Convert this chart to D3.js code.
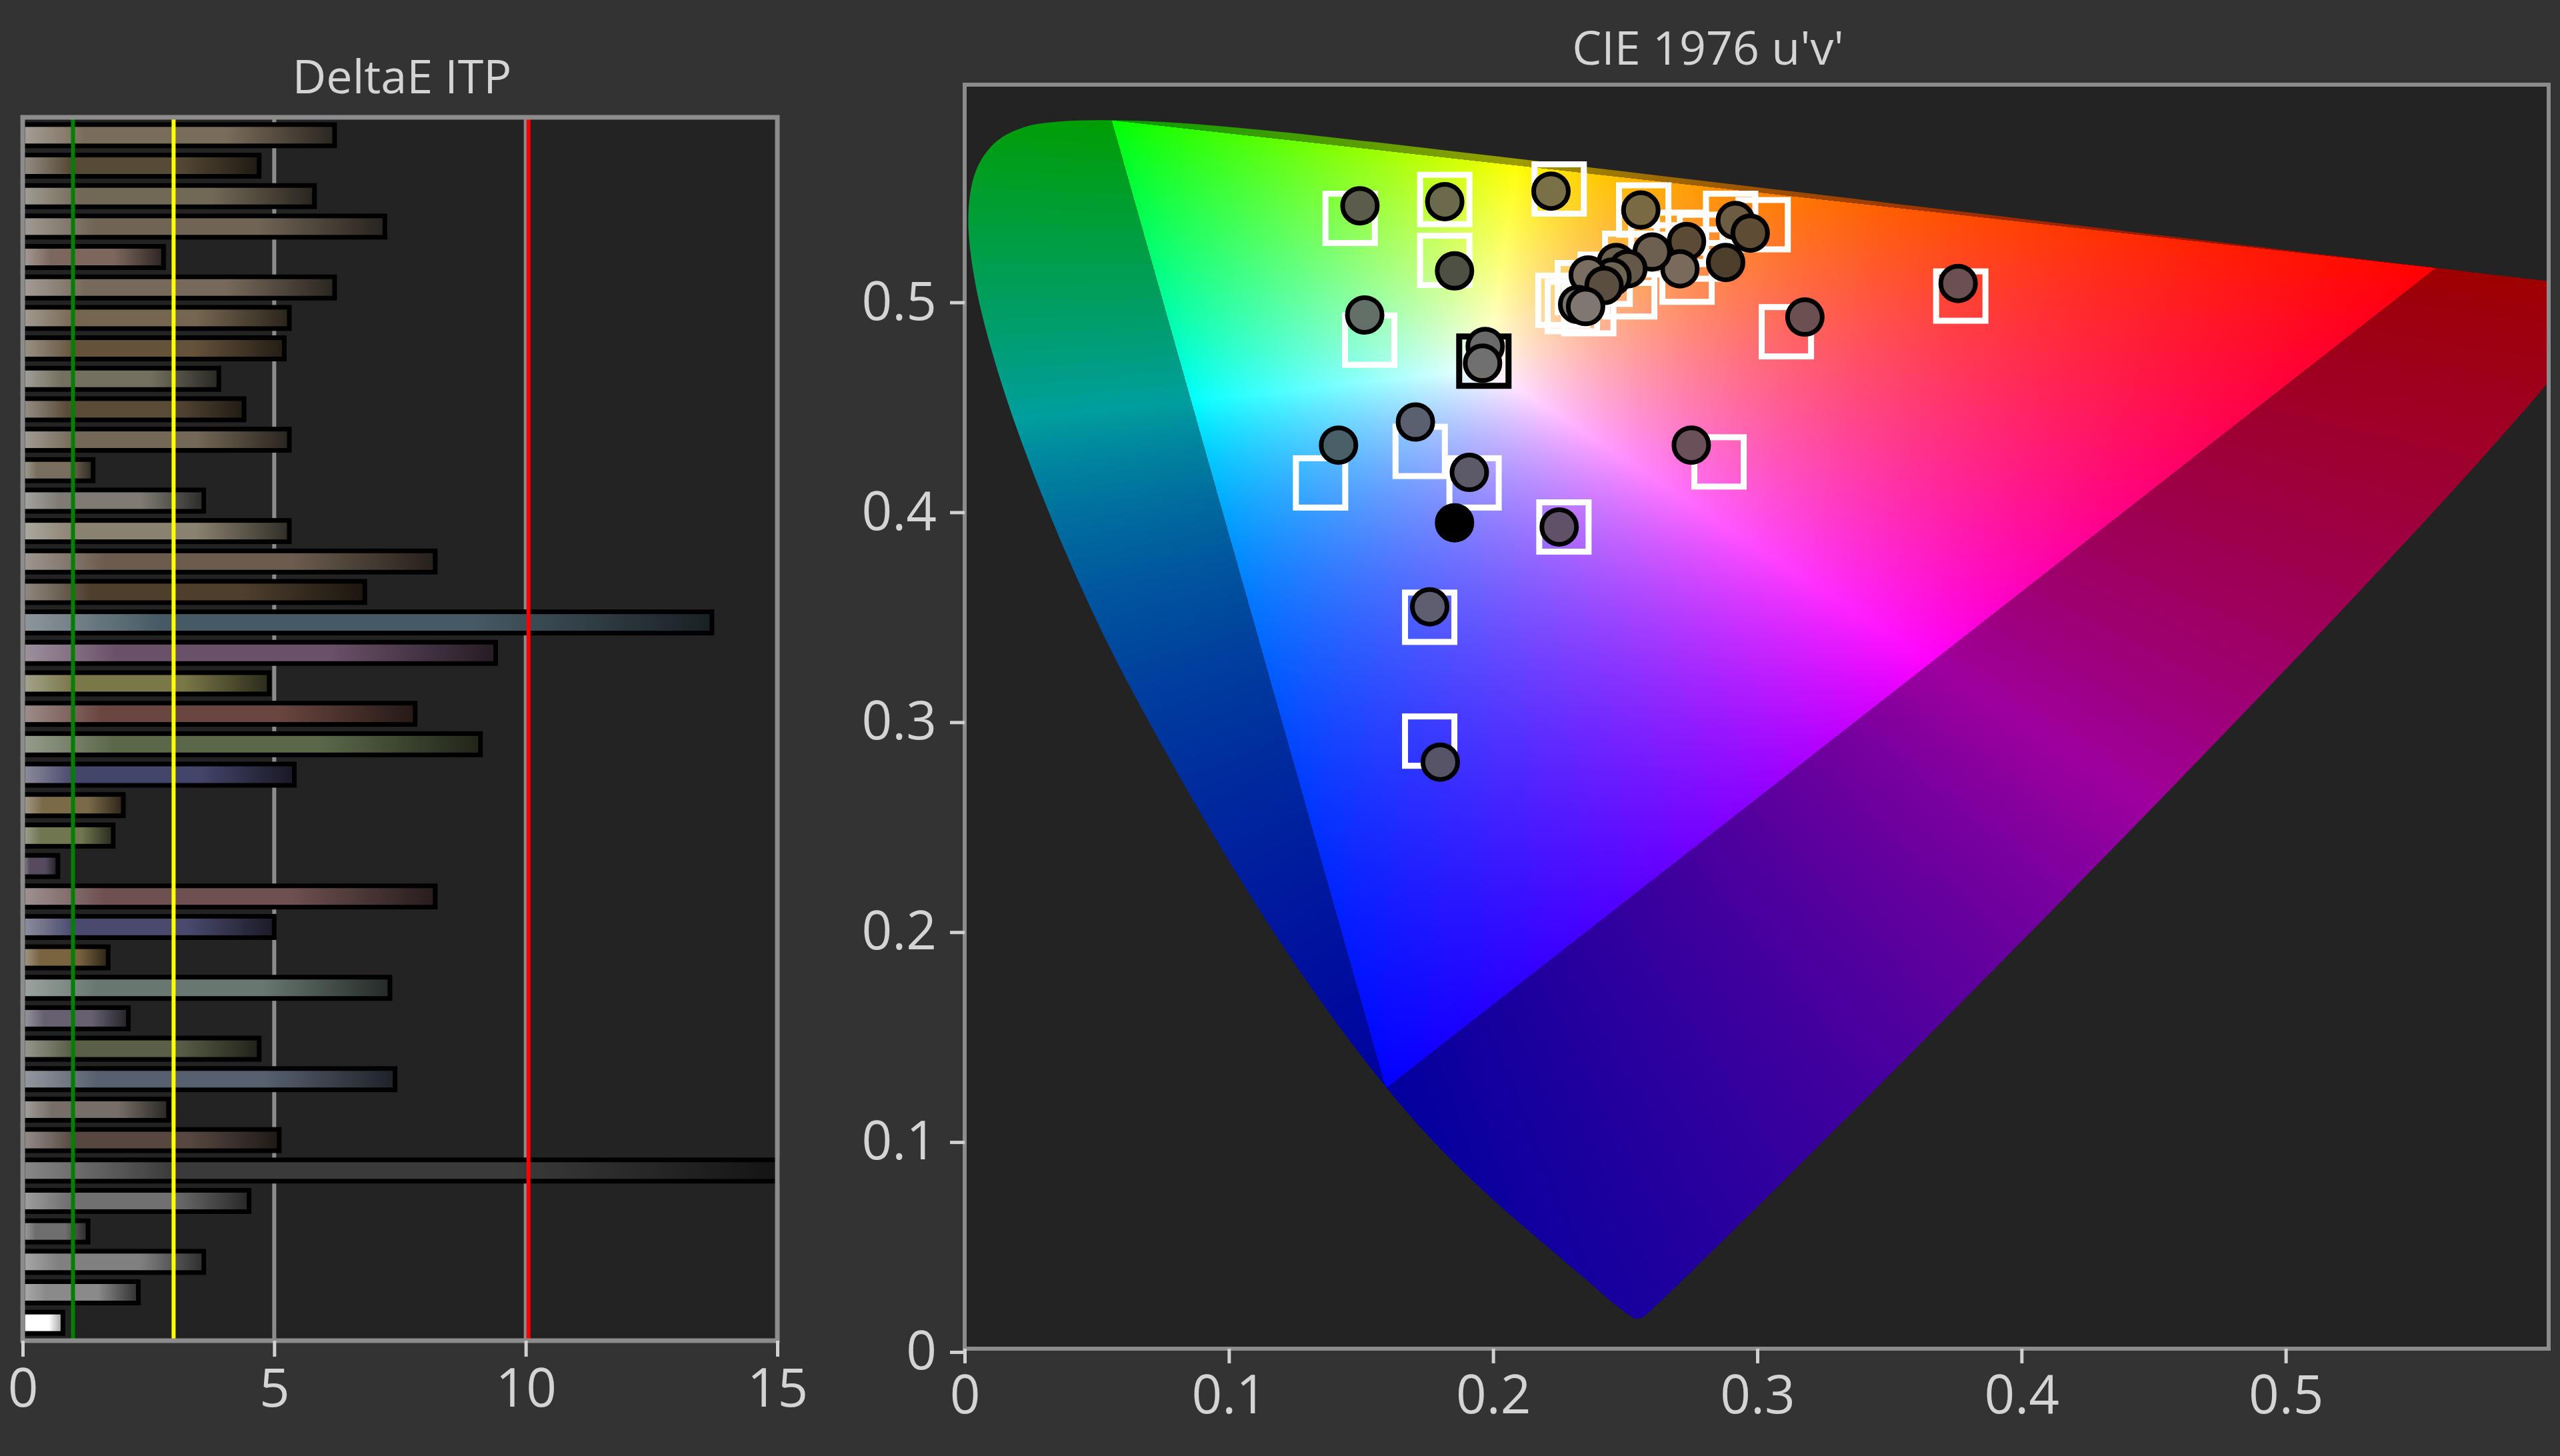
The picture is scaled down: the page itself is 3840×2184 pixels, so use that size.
<!DOCTYPE html>
<html><head><meta charset="utf-8">
<script src="https://cdn.jsdelivr.net/npm/d3@7"></script>
<style>body{margin:0;background:#333333;overflow:hidden}text{font-family:"Open Sans","Noto Sans",sans-serif;fill:#d4d4d4}</style>
</head><body>
<script>
// ---------- DATA ----------
const deltaE = [6.2,4.7,5.8,7.2,2.8,6.2,5.3,5.2,3.9,4.4,5.3,1.4,3.6,5.3,8.2,6.8,13.7,9.4,4.9,7.8,9.1,5.4,2.0,1.8,0.7,8.2,5.0,1.7,7.3,2.1,4.7,7.4,2.9,5.1,15,4.5,1.3,3.6,2.3,0.8];
const barColors = ["#7a6c5a","#574a36","#726856","#706455","#7d675d","#776a5b","#76664f","#65523a","#737060","#5b4c38","#746856","#7a6e5e","#7f7b74","#8a8270","#6c5c4e","#4e3e2c","#465a65","#6a5068","#7a7848","#6a4640","#5a6848","#44456a","#7a6a48","#6f7650","#554a5e","#6e5050","#4a4a6e","#7a6440","#687870","#666070","#5a6048","#56606e","#766e68","#564840","#3a3a3a","#707070","#6e6e6e","#808080","#8a8a8a","#ffffff"];
const thresholds = [{v:1,c:"#008000"},{v:3,c:"#ffff00"},{v:10,c:"#ff0000"}];
const barTicks = [0,5,10,15];
const uvTicks = [0,0.1,0.2,0.3,0.4,0.5];
const measU = [.1496,.1817,.2219,.2559,.1854,.1514,.2917,.2973,.2732,.2880,.2707,.2602,.2466,.251,.245,.236,.242,.232,.235,.318,.376,.197,.196,.1415,.1706,.191,.275,.225,.176,.180,.1854];
const measV = [.546,.548,.553,.544,.515,.494,.539,.533,.529,.519,.516,.524,.519,.516,.512,.513,.508,.499,.498,.493,.509,.479,.471,.432,.443,.419,.432,.393,.355,.281,.395];
const measC = ["#5c5c4c","#6c6a4c","#7a7048","#7a6a44","#4e5044","#627068","#6c5c44","#5e4c34","#5a4a36","#4e3e2c","#7a6a5c","#6e6050","#6a6050","#645848","#6e6454","#7a6e60","#5a4e40","#7a746e","#807870","#6a5050","#6a5050","#6a6a6a","#707070","#4a6068","#5a6070","#5c5a68","#6a5058","#605068","#5e5e70","#585468","#000000"];
const targU = [.1459,.1817,.2250,.257,.1817,.1533,.2899,.3022,.2713,.2775,.2616,.2517,.2734,.2424,.2517,.2338,.2264,.2300,.2362,.2800,.311,.377,.1965,.1347,.1724,.1928,.2855,.2268,.176,.176];
const targV = [.540,.549,.554,.544,.520,.482,.540,.537,.531,.523,.525,.521,.512,.511,.505,.507,.501,.498,.497,.530,.486,.503,.472,.414,.429,.414,.424,.393,.350,.291];
// CIE 1931 spectral locus (x,y), 380..700nm
const locusX = [.1741,.1740,.1738,.1736,.1733,.1730,.1726,.1721,.1714,.1703,.1689,.1669,.1644,.1611,.1566,.1510,.1440,.1355,.1241,.1096,.0913,.0687,.0454,.0235,.0082,.0039,.0139,.0389,.0743,.1142,.1547,.1929,.2296,.2658,.3016,.3373,.3731,.4087,.4441,.4788,.5125,.5448,.5752,.6029,.6270,.6482,.6658,.6801,.6915,.7006,.7079,.7140,.7190,.7260,.7300,.7347];
const locusY = [.0050,.0050,.0049,.0049,.0048,.0048,.0048,.0048,.0051,.0058,.0069,.0086,.0109,.0138,.0177,.0227,.0297,.0399,.0578,.0868,.1327,.2007,.2950,.4127,.5384,.6548,.7502,.8120,.8338,.8262,.8059,.7816,.7543,.7243,.6923,.6589,.6245,.5896,.5547,.5202,.4866,.4544,.4242,.3965,.3725,.3514,.3340,.3197,.3083,.2993,.2920,.2859,.2809,.2740,.2700,.2653];
const rec2020 = [[.5566,.5165],[.0556,.5868],[.1593,.1258]]; // u'v'

const W=3840,H=2184;
const svg=d3.select("body").append("svg").attr("width",W).attr("height",H);
svg.append("rect").attr("width",W).attr("height",H).attr("fill","#333333");

// ---------- LEFT: DeltaE bars ----------
const L={l:34,r:1166,t:176,b:2011};
const x=d3.scaleLinear().domain([0,15]).range([L.l,L.r]);
const y=d3.scaleBand().domain(d3.range(deltaE.length)).range([L.t+4,L.b-4]).paddingInner(0.3).paddingOuter(0.15);
svg.append("rect").attr("x",L.l).attr("y",L.t).attr("width",L.r-L.l).attr("height",L.b-L.t).attr("fill","#232323");
[5,10].forEach(v=>svg.append("line").attr("x1",x(v)).attr("x2",x(v)).attr("y1",L.t).attr("y2",L.b).attr("stroke","#8c8c8c").attr("stroke-width",6));
const defs=svg.append("defs");
deltaE.forEach((d,i)=>{
  const base=d3.color(barColors[i]);
  const g=defs.append("linearGradient").attr("id","bg"+i);
  g.append("stop").attr("offset","0%").attr("stop-color",d3.interpolateRgb(base,"#c8c8c8")(i==39?0:0.55));
  g.append("stop").attr("offset","20%").attr("stop-color",base);
  g.append("stop").attr("offset","65%").attr("stop-color",base);
  g.append("stop").attr("offset","100%").attr("stop-color",i==39?"#9a9a9a":d3.interpolateRgb(base,"#000")(0.65));
});
svg.selectAll(".bar").data(deltaE).join("rect").attr("class","bar")
  .attr("x",L.l).attr("y",(d,i)=>y(i)).attr("width",d=>x(d)-L.l).attr("height",y.bandwidth())
  .attr("fill",(d,i)=>`url(#bg${i})`).attr("stroke","#000").attr("stroke-width",7);
thresholds.forEach(t=>svg.append("line").attr("x1",x(t.v)+(t.v==10?4:0)).attr("x2",x(t.v)+(t.v==10?4:0)).attr("y1",L.t).attr("y2",L.b).attr("stroke",t.c).attr("stroke-width",6));
svg.append("rect").attr("x",L.l).attr("y",L.t).attr("width",L.r-L.l).attr("height",L.b-L.t).attr("fill","none").attr("stroke","#8c8c8c").attr("stroke-width",7);
const ax1=svg.append("g").attr("transform",`translate(0,${L.b})`).call(d3.axisBottom(x).tickValues(barTicks).tickSize(24).tickSizeOuter(0).tickPadding(18));
ax1.select(".domain").remove();
ax1.selectAll("line").attr("stroke","#d0d0d0").attr("stroke-width",5);
ax1.selectAll("text").attr("font-size",80).style("fill","#d4d4d4");
svg.append("text").attr("x",603).attr("y",140).attr("text-anchor","middle").attr("font-size",70).text("DeltaE ITP");

// ---------- RIGHT: CIE u'v' ----------
const R={l:1447,r:3823,t:127,b:2023};
const u=d3.scaleLinear().domain([0,0.5995]).range([R.l,R.r]);
const v=d3.scaleLinear().domain([0,0.6037]).range([2028,R.t]);
svg.append("rect").attr("x",R.l).attr("y",R.t).attr("width",R.r-R.l).attr("height",R.b-R.t).attr("fill","#232323");
const locusUV=locusX.map((xx,i)=>{const yy=locusY[i];const d=-2*xx+12*yy+3;return [4*xx/d,9*yy/d];});
const cw=R.r-R.l,ch=R.b-R.t;
const cv=document.createElement("canvas");cv.width=cw;cv.height=ch;
const ctx=cv.getContext("2d");
const img=ctx.createImageData(cw,ch);
function inTri(p,a,b,c){const s=(P,Q,Rr)=>(P[0]-Rr[0])*(Q[1]-Rr[1])-(Q[0]-Rr[0])*(P[1]-Rr[1]);const d1=s(p,a,b),d2=s(p,b,c),d3v=s(p,c,a);const n=d1<0||d2<0||d3v<0,ps=d1>0||d2>0||d3v>0;return !(n&&ps);}
for(let py=0;py<ch;py++){
  const vv=v.invert(py+R.t);
  for(let px=0;px<cw;px++){
    const uu=u.invert(px+R.l);
    const den=6*uu-16*vv+12;const xx=9*uu/den,yy=4*vv/den;
    if(yy<=0.001)continue;
    const X=xx/yy,Y=1,Z=(1-xx-yy)/yy;
    let r=1.7166512*X-0.3556708*Y-0.2533663*Z;
    let g=-0.6666844*X+1.6164812*Y+0.0157685*Z;
    let b=0.0176399*X-0.0427706*Y+0.9421031*Z;
    r=Math.max(r,0);g=Math.max(g,0);b=Math.max(b,0);
    const m=Math.max(r,g,b)||1;
    const k=inTri([uu,vv],rec2020[0],rec2020[1],rec2020[2])?1:0.62;
    const gm=0.85;
    const o=(py*cw+px)*4;
    img.data[o]=255*k*Math.pow(r/m,gm);img.data[o+1]=255*k*Math.pow(g/m,gm);img.data[o+2]=255*k*Math.pow(b/m,gm);img.data[o+3]=255;
  }
}
ctx.putImageData(img,0,0);
const clip=defs.append("clipPath").attr("id","loc");
clip.append("path").attr("d",d3.line().x(d=>u(d[0])).y(d=>v(d[1])).curve(d3.curveCatmullRomClosed)(locusUV));
const clip2=defs.append("clipPath").attr("id","plot");
clip2.append("rect").attr("x",R.l).attr("y",R.t).attr("width",cw).attr("height",ch);
svg.append("g").attr("clip-path","url(#plot)").append("image").attr("x",R.l).attr("y",R.t).attr("width",cw).attr("height",ch)
  .attr("href",cv.toDataURL()).attr("clip-path","url(#loc)");
const pts=svg.append("g").attr("clip-path","url(#plot)");
const S=74;
pts.selectAll(".sq").data(targU).join("rect").attr("x",(d)=>u(d)-S/2).attr("y",(d,i)=>v(targV[i])-S/2).attr("width",S).attr("height",S)
  .attr("fill","none").attr("stroke",(d,i)=>i==22?"#000":"#fff").attr("stroke-width",9);
pts.selectAll(".ci").data(measU).join("circle").attr("cx",d=>u(d)).attr("cy",(d,i)=>v(measV[i])).attr("r",26)
  .attr("fill",(d,i)=>measC[i]).attr("stroke","#000").attr("stroke-width",7);
svg.append("rect").attr("x",R.l).attr("y",R.t).attr("width",cw).attr("height",ch).attr("fill","none").attr("stroke","#8c8c8c").attr("stroke-width",6);
const fmt=d=>d===0?"0":d3.format(".1f")(d);
const ax2=svg.append("g").attr("transform",`translate(0,${R.b})`).call(d3.axisBottom(u).tickValues(uvTicks).tickFormat(fmt).tickSize(22).tickSizeOuter(0).tickPadding(18));
const ax3=svg.append("g").attr("transform",`translate(${R.l},0)`).call(d3.axisLeft(v).tickValues(uvTicks).tickFormat(fmt).tickSize(22).tickSizeOuter(0).tickPadding(20));
[ax2,ax3].forEach(a=>{a.select(".domain").remove();a.selectAll("line").attr("stroke","#d0d0d0").attr("stroke-width",5);a.selectAll("text").attr("font-size",80).style("fill","#d4d4d4");});
svg.append("text").attr("x",2562).attr("y",97).attr("text-anchor","middle").attr("font-size",70).text("CIE 1976 u'v'");
</script>
</body></html>
